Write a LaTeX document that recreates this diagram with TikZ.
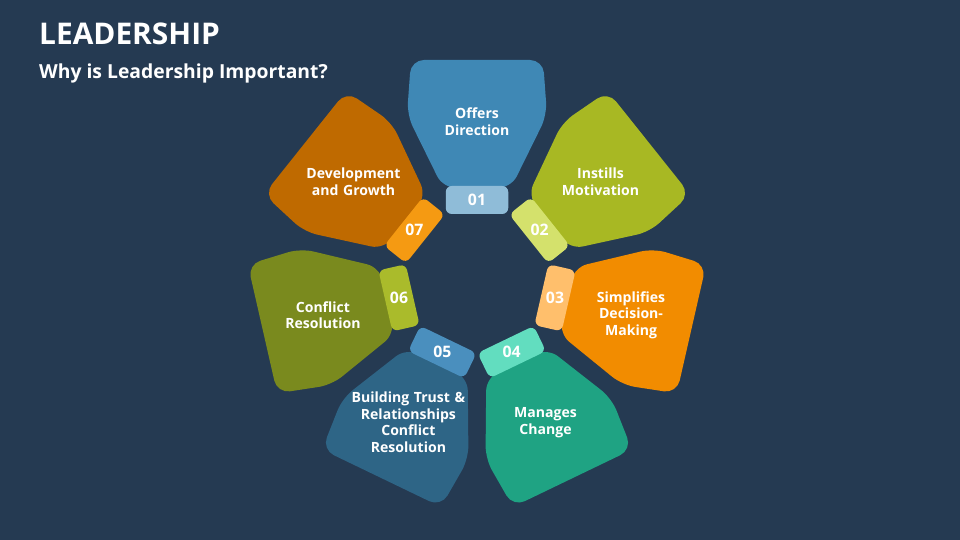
\documentclass[tikz,border=0pt]{standalone}
\usepackage{fontspec}
\setmainfont{Open Sans}
\usetikzlibrary{calc}
\definecolor{bg}{HTML}{253A52}
\definecolor{pA}{HTML}{3F88B5}\definecolor{tA}{HTML}{8FBCD8}
\definecolor{pB}{HTML}{A8B823}\definecolor{tB}{HTML}{D4E16C}
\definecolor{pC}{HTML}{F28C00}\definecolor{tC}{HTML}{FFBF6C}
\definecolor{pD}{HTML}{1FA383}\definecolor{tD}{HTML}{62DDBF}
\definecolor{pE}{HTML}{2E6586}\definecolor{tE}{HTML}{4A8FBE}
\definecolor{pF}{HTML}{7A8A1E}\definecolor{tF}{HTML}{AABB2B}
\definecolor{pG}{HTML}{BF6A00}\definecolor{tG}{HTML}{F59A12}
\tikzset{petal/.style={fill=#1,rounded corners=0.26cm},
  tab/.style={fill=#1,rounded corners=0.12cm,minimum width=1.25cm,minimum height=0.56cm},
  num/.style={text=white,font=\bfseries\small},
  label/.style={text=white,font=\bfseries\footnotesize,align=center,text width=2.3cm}}
\begin{document}
\begin{tikzpicture}[x=0.02cm,y=0.02cm]
\fill[bg] (0,0) rectangle (960,540);
\node[anchor=west,text=white,font=\bfseries\fontsize{17}{20}\selectfont] (title) at (33,506) {LEADERSHIP};
\node[anchor=west,text=white,font=\bfseries\fontsize{11}{13}\selectfont] (sub) at (33,467) {Why is Leadership Important?};
\coordinate (c) at (477,260);
\foreach \i/\pc/\tc/\txt in {1/pA/tA/{Offers\\Direction},2/pB/tB/{Instills\\Motivation},
  3/pC/tC/{Simplifies\\Decision-\\Making},4/pD/tD/{Manages\\Change},
  5/pE/tE/{Building Trust \&\\Relationships\\Conflict\\Resolution},6/pF/tF/{Conflict\\Resolution},
  7/pG/tG/{Development\\and Growth}}{
  \pgfmathsetmacro\ang{90-51.43*(\i-1)}
  \begin{scope}[shift={(c)},rotate=\ang-90]
    \fill[petal=\pc] (-34,92) -- (34,92) -- (70,165) -- (66,220) -- (-66,220) -- (-70,165) -- cycle;
    \node[tab=\tc,rotate=\ang-90] (tab\i) at (0,80) {};
  \end{scope}
  \node[num] (num\i) at (tab\i) {0\i};
  \node[label] (txt\i) at ($(c)+(\ang:158)$) {\txt};
}
\end{tikzpicture}
\end{document}
